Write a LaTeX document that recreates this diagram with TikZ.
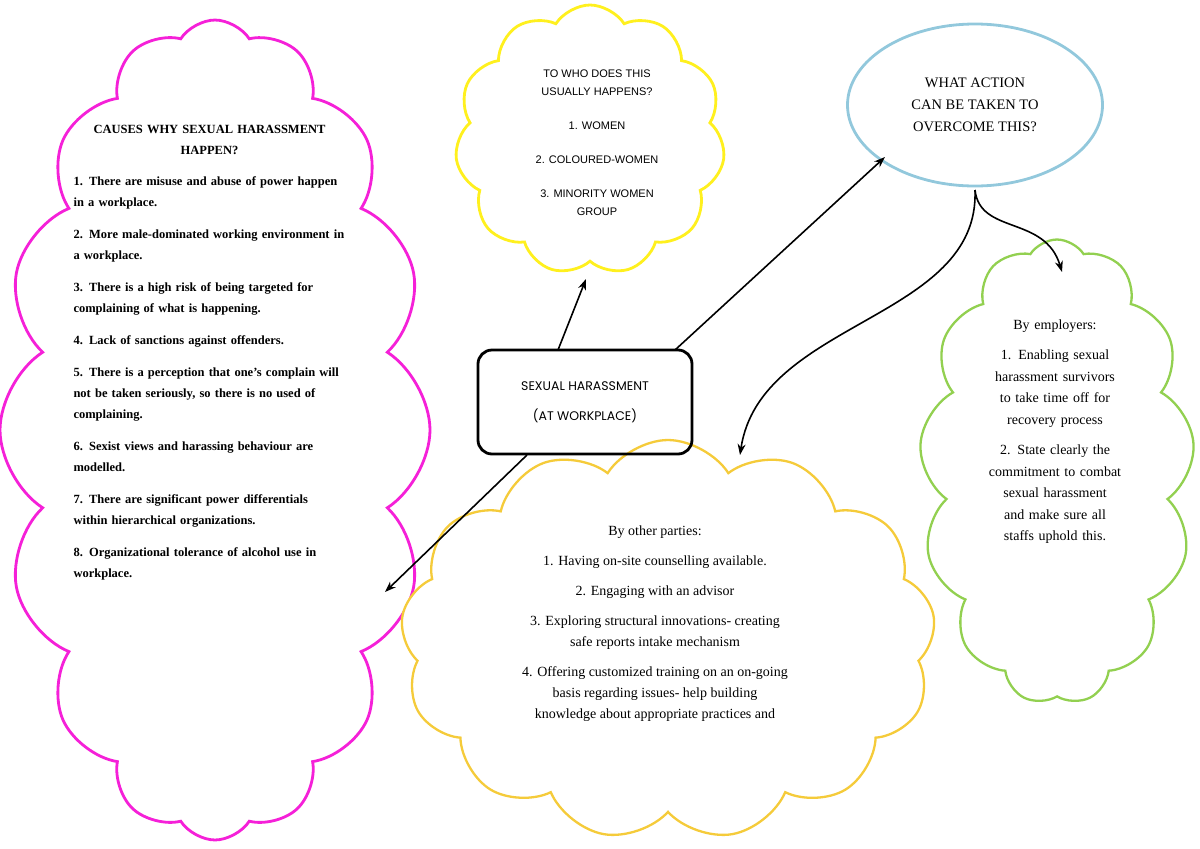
\documentclass[tikz,border=0pt]{standalone}
\usepackage{fontspec}
\setmainfont{Liberation Serif}
\newfontfamily\sansf{Liberation Sans}
\newfontfamily\boxf{Poppins}
\usetikzlibrary{shapes.symbols,shapes.geometric,arrows.meta}
\definecolor{pk}{HTML}{F520D8}
\definecolor{yl}{HTML}{FFF01E}
\definecolor{bl}{HTML}{92C8DC}
\definecolor{gr}{HTML}{92D050}
\definecolor{og}{HTML}{F5CB3A}
\tikzset{cl/.style={cloud, draw=#1, line width=2.8pt, fill=white},
 arr/.style={-{Stealth[length=11pt,width=8pt]}, line width=1.6pt}}
\begin{document}
\begin{tikzpicture}[x=1pt,y=-1pt]
\useasboundingbox (0,0) rectangle (1200,849);
\node[cl=pk, cloud puffs=16, cloud puff arc=115, minimum width=430, minimum height=820] (pink) at (215,430) {};
\node[cl=yl, cloud puffs=11, cloud puff arc=115, minimum width=270, minimum height=270] (yel) at (590,140) {};
\node[draw=bl, line width=2.8pt, ellipse, minimum width=255, minimum height=162] (ell) at (975,105) {};
\node[cl=gr, line width=2.3pt, cloud puffs=13, cloud puff arc=115, minimum width=275, minimum height=465] (grn) at (1057,472) {};
\node[cl=og, line width=2.3pt, cloud puffs=13, cloud puff arc=115, minimum width=535, minimum height=400] (org) at (668,640) {};
\node[draw, line width=2.8pt, rounded corners=14pt, minimum width=214, minimum height=104] (box) at (585,402) {};
\node[align=center, font=\boxf\fontsize{12.5}{30}\selectfont] at (box) {SEXUAL HARASSMENT\\(AT WORKPLACE)};

\node[anchor=north west, text width=272, align=left, font=\bfseries\fontsize{12.5}{21}\selectfont] (pt) at (70,122) {%
\centering CAUSES WHY SEXUAL HARASSMENT\\ HAPPEN?\par\raggedright\vspace{10pt}
1. There are misuse and abuse of power happen in a workplace.\par\vspace{11pt}
2. More male-dominated working environment in a workplace.\par\vspace{11pt}
3. There is a high risk of being targeted for complaining of what is happening.\par\vspace{11pt}
4. Lack of sanctions against offenders.\par\vspace{11pt}
5. There is a perception that one's complain will not be taken seriously, so there is no used of complaining.\par\vspace{11pt}
6. Sexist views and harassing behaviour are modelled.\par\vspace{11pt}
7. There are significant power differentials within hierarchical organizations.\par\vspace{11pt}
8. Organizational tolerance of alcohol use in workplace.};

\node[anchor=north, align=center, font=\sansf\fontsize{11}{18}\selectfont] (yt) at (597,66) {TO WHO DOES THIS\\USUALLY HAPPENS?\\[16pt]1. WOMEN\\[16pt]2. COLOURED-WOMEN\\[16pt]3. MINORITY WOMEN\\GROUP};

\node[align=center, font=\fontsize{14.5}{22}\selectfont] (et) at (ell) {WHAT ACTION\\CAN BE TAKEN TO\\OVERCOME THIS?};

\node[anchor=north, align=center, text width=138, font=\fontsize{14}{21.5}\selectfont] (gt) at (1055,316) {By employers:\\[9pt]1. Enabling sexual harassment survivors to take time off for recovery process\\[9pt]2. State clearly the commitment to combat sexual harassment and make sure all staffs uphold this.};

\node[anchor=north, align=center, font=\fontsize{14}{21}\selectfont] (ot) at (655,522) {By other parties:\\[9pt]1. Having on-site counselling available.\\[9pt]2. Engaging with an advisor\\[9pt]3. Exploring structural innovations- creating\\safe reports intake mechanism\\[9pt]4. Offering customized training on an on-going\\basis regarding issues- help building\\knowledge about appropriate practices and};

\coordinate (b1) at (558,350);
\coordinate (y1) at (586,279);
\coordinate (b2) at (675,350);
\coordinate (e1) at (885,157);
\coordinate (b3) at (527,455);
\coordinate (p1) at (385,592);
\coordinate (e2) at (975,190);
\coordinate (o1) at (740,455);
\coordinate (g1) at (1062,272);
\draw[arr] (b1) -- (y1);
\draw[arr] (b2) -- (e1);
\draw[arr] (b3) -- (p1);
\draw[arr] (e2) .. controls (980,320) and (760,320) .. (o1);
\draw[arr] (e2) .. controls (980,235) and (1045,215) .. (g1);
\end{tikzpicture}
\end{document}
